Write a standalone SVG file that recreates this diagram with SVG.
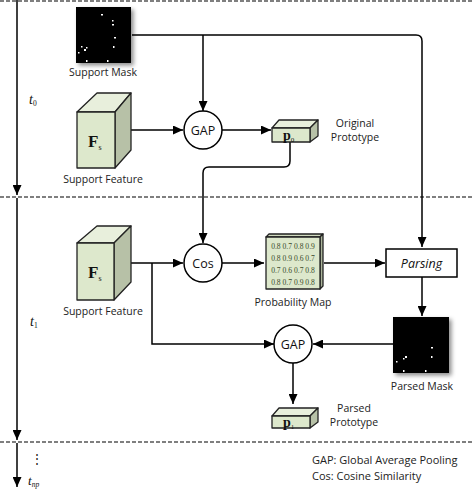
<svg xmlns="http://www.w3.org/2000/svg" width="474" height="489" viewBox="0 0 474 489">
<defs>
<marker id="arr" markerUnits="userSpaceOnUse" markerWidth="10" markerHeight="9" refX="10" refY="4.5" orient="auto">
<path d="M0,0 L10,4.5 L0,9 z" fill="#000"/>
</marker>
<filter id="sh" x="-20%" y="-20%" width="150%" height="150%">
<feDropShadow dx="2.5" dy="2.5" stdDeviation="2" flood-color="#000" flood-opacity="0.45"/>
</filter>
</defs>
<style>
.lbl{font-family:"Open Sans","Liberation Sans",sans-serif;font-size:10.5px;fill:#222;text-anchor:middle}
.leg{font-family:"Open Sans","Liberation Sans",sans-serif;font-size:11px;fill:#222}
.ser{font-family:"Liberation Serif","DejaVu Serif",serif;fill:#111}
.dash{stroke:#555;stroke-width:1.3;stroke-dasharray:4 2;fill:none}
.con{stroke:#000;stroke-width:1.5;fill:none}
.box{stroke:#222;stroke-width:1.3;stroke-linejoin:round}
.front{fill:#dde8cc}
.top{fill:#e8efdc}
.side{fill:#b7c1a7}
.circ{fill:#fff;stroke:#000;stroke-width:1.5}
.ctext{font-family:"Open Sans","Liberation Sans",sans-serif;font-size:12.5px;fill:#111;text-anchor:middle}
.num{font-family:"Liberation Serif","DejaVu Serif",serif;font-size:7.6px;fill:#3a4a2a;text-anchor:middle}
</style>

<g id="dividers">
<line class="dash" x1="0" y1="1" x2="474" y2="1"/>
<line class="dash" x1="0" y1="197" x2="474" y2="197"/>
<line class="dash" x1="0" y1="442" x2="474" y2="442"/>
</g>

<g id="timeline">
<line class="con" x1="17" y1="0" x2="17" y2="195" marker-end="url(#arr)"/>
<line class="con" x1="17" y1="198" x2="17" y2="440" marker-end="url(#arr)"/>
<line class="con" x1="17" y1="443" x2="17" y2="487" marker-end="url(#arr)"/>
<text class="ser" x="29" y="104" font-size="14" font-style="italic">t<tspan font-size="7.5" dy="2" font-style="normal">0</tspan></text>
<text class="ser" x="30" y="326" font-size="14" font-style="italic">t<tspan font-size="7.5" dy="2" font-style="normal">1</tspan></text>
<text class="ser" x="31" y="463" font-size="12">⋮</text>
<text class="ser" x="28" y="485" font-size="13" font-style="italic">t<tspan font-size="7.5" dy="2">np</tspan></text>
</g>

<g id="connectors">
<path class="con" d="M132,35 H416 Q422,35 422,41 V247" marker-end="url(#arr)"/>
<path class="con" d="M203,35 V111" marker-end="url(#arr)"/>
<path class="con" d="M124,130 H183" marker-end="url(#arr)"/>
<path class="con" d="M222,130 H271" marker-end="url(#arr)"/>
<path class="con" d="M290,142 V161 Q290,167 284,167 H209 Q203,167 203,173 V243" marker-end="url(#arr)"/>
<path class="con" d="M124,263 H183" marker-end="url(#arr)"/>
<path class="con" d="M152,263 V344 H274" marker-end="url(#arr)"/>
<path class="con" d="M222,263 H264" marker-end="url(#arr)"/>
<path class="con" d="M324,263 H385" marker-end="url(#arr)"/>
<path class="con" d="M422,277 V316" marker-end="url(#arr)"/>
<path class="con" d="M393,344 H313" marker-end="url(#arr)"/>
<path class="con" d="M293,363 V404" marker-end="url(#arr)"/>
</g>

<g id="support-mask">
<rect x="76" y="7" width="55" height="56" fill="#000" filter="url(#sh)"/>
<g fill="#fff">
<rect x="101" y="14" width="2" height="1.5"/>
<rect x="112" y="20" width="1.5" height="1.5"/>
<rect x="112" y="24" width="2" height="1.5"/>
<rect x="114" y="37" width="2" height="1.5"/>
<rect x="113" y="46" width="1.5" height="2"/>
<rect x="81" y="46" width="1.5" height="1.5"/>
<rect x="84" y="49" width="2" height="2"/>
<rect x="86" y="47" width="1.5" height="1.5"/>
<rect x="78" y="52" width="1.5" height="1.5"/>
<rect x="86" y="60" width="1.5" height="2"/>
<rect x="107" y="60" width="1.5" height="2"/>
</g>
<text class="lbl" x="103" y="76">Support Mask</text>
</g>

<g id="support-feature-0">
<polygon class="box top" points="77,112 97,93 131,93 115,112"/>
<polygon class="box side" points="115,112 131,93 131,150 115,168"/>
<rect class="box front" x="77" y="112" width="38" height="56"/>
<text class="ser" x="88" y="147" font-size="17" font-weight="bold">F<tspan font-size="8" dy="3" font-weight="normal">s</tspan></text>
<text class="lbl" x="103" y="183">Support Feature</text>
</g>

<g id="gap-0">
<circle class="circ" cx="203" cy="130" r="19"/>
<text class="ctext" x="203" y="134.5">GAP</text>
</g>

<g id="original-prototype">
<polygon class="box top" points="272,128 279,120 318,120 310,128"/>
<polygon class="box side" points="310,128 318,120 318,136 310,142"/>
<rect class="box front" x="272" y="128" width="38" height="14"/>
<text class="ser" x="283" y="140" font-size="14" font-weight="bold">p<tspan font-size="7" dy="1.5" font-weight="normal">0</tspan></text>
<text class="lbl" x="355" y="127">Original</text>
<text class="lbl" x="355" y="141">Prototype</text>
</g>

<g id="support-feature-1">
<polygon class="box top" points="77,243 97,226 131,226 114,243"/>
<polygon class="box side" points="114,243 131,226 131,282 114,300"/>
<rect class="box front" x="77" y="243" width="37" height="57"/>
<text class="ser" x="88" y="278" font-size="17" font-weight="bold">F<tspan font-size="8" dy="3" font-weight="normal">s</tspan></text>
<text class="lbl" x="103" y="315">Support Feature</text>
</g>

<g id="cos">
<circle class="circ" cx="203" cy="263" r="19"/>
<text class="ctext" x="203" y="267.5">Cos</text>
</g>

<g id="probability-map">
<polygon class="box" fill="#cfd9be" points="266,237 269,234 323,234 320,237"/>
<polygon class="box" fill="#aab49a" points="320,237 323,234 323,286 320,289"/>
<rect class="box front" x="266" y="237" width="54" height="52"/>
<text class="num" x="293" y="249">0.8 0.7 0.8 0.9</text>
<text class="num" x="293" y="261">0.8 0.9 0.6 0.7</text>
<text class="num" x="293" y="273">0.7 0.6 0.7 0.8</text>
<text class="num" x="293" y="285">0.8 0.7 0.9 0.8</text>
<text class="lbl" x="293" y="306">Probability Map</text>
</g>

<g id="parsing">
<rect x="386" y="249" width="71" height="28" fill="#fff" stroke="#000" stroke-width="1.5"/>
<text class="ctext" x="421.5" y="268" font-style="italic" font-size="14">Parsing</text>
</g>

<g id="parsed-mask">
<rect x="393" y="317" width="56" height="56" fill="#000" filter="url(#sh)"/>
<g fill="#fff">
<rect x="431" y="347" width="2" height="1.5"/>
<rect x="431" y="356" width="1.5" height="2"/>
<rect x="403" y="358" width="1.5" height="1.5"/>
<rect x="405" y="356" width="2" height="2"/>
<rect x="396" y="361" width="1.5" height="1.5"/>
<rect x="403" y="370" width="1.5" height="2"/>
<rect x="425" y="370" width="1.5" height="2"/>
</g>
<text class="lbl" x="422" y="390">Parsed Mask</text>
</g>

<g id="gap-1">
<circle class="circ" cx="293" cy="344" r="19"/>
<text class="ctext" x="293" y="348.5">GAP</text>
</g>

<g id="parsed-prototype">
<polygon class="box top" points="272,416 279,408 318,408 310,416"/>
<polygon class="box side" points="310,416 318,408 318,422 310,428"/>
<rect class="box front" x="272" y="416" width="38" height="12"/>
<text class="ser" x="283" y="427" font-size="14" font-weight="bold">p<tspan font-size="7" dy="1.5" font-weight="normal">1</tspan></text>
<text class="lbl" x="354" y="412">Parsed</text>
<text class="lbl" x="354" y="426">Prototype</text>
</g>

<g id="legend">
<text class="leg" x="312" y="464">GAP: Global Average Pooling</text>
<text class="leg" x="312" y="480">Cos: Cosine Similarity</text>
</g>
</svg>
